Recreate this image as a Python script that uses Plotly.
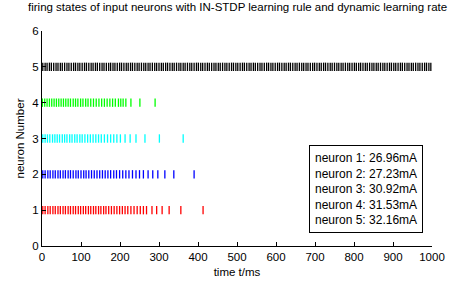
import plotly.graph_objects as go

neuron_ids = [1, 2, 3, 4, 5]
neuron_colors = ["#ff0000", "#0000ff", "#00ffff", "#00ff00", "#000000"]

spikes_n1 = [2, 8, 15, 21, 28, 34, 41, 47, 54, 60, 67, 73, 80, 86, 93, 99, 106, 112, 119, 125,
             132, 138, 145, 151, 158, 164, 171, 178, 185, 192, 199, 206, 213, 220, 228, 236,
             244, 252, 260, 268, 282, 294, 308, 326, 356, 413]
spikes_n2 = [2, 8, 15, 21, 28, 34, 41, 47, 54, 60, 67, 73, 80, 87, 93, 100, 107, 113, 120, 127,
             134, 141, 148, 155, 162, 169, 176, 184, 191, 199, 207, 215, 223, 232, 241, 250,
             260, 272, 284, 297, 315, 338, 390]
spikes_n3 = [2, 8, 14, 20, 27, 33, 39, 45, 52, 58, 64, 71, 77, 84, 90, 97, 103, 110, 117, 124,
             131, 138, 145, 152, 160, 168, 176, 184, 192, 201, 213, 226, 241, 264, 301, 362]
spikes_n4 = [1, 7, 13, 19, 25, 31, 37, 43, 49, 55, 61, 67, 73, 80, 86, 92, 99, 105, 112, 118,
             125, 132, 139, 146, 153, 160, 167, 174, 181, 188, 196, 202, 208, 215, 228, 251, 290]
spikes_n5 = [2, 8, 13, 19, 24, 30, 36, 41, 47, 52, 58, 64, 69, 75, 81, 86, 92, 97, 103, 109,
             114, 120, 126, 131, 137, 142, 148, 154, 159, 165, 171, 176, 182, 187, 193, 199,
             204, 210, 216, 221, 227, 232, 238, 244, 249, 255, 261, 266, 272, 277, 283, 289,
             294, 300, 306, 311, 317, 322, 328, 334, 339, 345, 351, 356, 362, 367, 373, 379,
             384, 390, 396, 401, 407, 412, 418, 424, 429, 435, 441, 446, 452, 457, 463, 469,
             474, 480, 486, 491, 497, 502, 508, 514, 519, 525, 531, 536, 542, 547, 553, 559,
             564, 570, 576, 581, 587, 592, 598, 604, 609, 615, 621, 626, 632, 637, 643, 649,
             654, 660, 666, 671, 677, 682, 688, 694, 699, 705, 711, 716, 722, 727, 733, 739,
             744, 750, 756, 761, 767, 772, 778, 784, 789, 795, 801, 806, 812, 817, 823, 829,
             834, 840, 846, 851, 857, 862, 868, 874, 879, 885, 891, 896, 902, 907, 913, 919,
             924, 930, 936, 941, 947, 952, 958, 964, 969, 975, 981, 986, 992, 997]
all_spikes = [spikes_n1, spikes_n2, spikes_n3, spikes_n4, spikes_n5]

currents_mA = ["26.96", "27.23", "30.92", "31.53", "32.16"]

x_ticks = [0, 100, 200, 300, 400, 500, 600, 700, 800, 900, 1000]
y_ticks = [0, 1, 2, 3, 4, 5, 6]

title_text = "firing states of input neurons with IN-STDP learning rule and dynamic learning rate"
x_label = "time t/ms"
y_label = "neuron Number"

FONT = "Liberation Sans, Arial, sans-serif"

fig = go.Figure()
for nid, col, sp in zip(neuron_ids, neuron_colors, all_spikes):
    fig.add_trace(go.Scatter(
        x=sp, y=[nid] * len(sp), mode="markers",
        marker=dict(symbol="line-ns", size=6, color=col,
                    line=dict(color=col, width=1.3)),
        showlegend=False, cliponaxis=False,
    ))

box_text = "<br>".join(f"neuron {n}: {c}mA" for n, c in zip(neuron_ids, currents_mA))
fig.add_annotation(
    x=830, y=1.58, xref="x", yref="y", text=box_text, showarrow=False,
    align="left", xanchor="center", yanchor="middle",
    font=dict(family=FONT, size=12, color="black"),
    bordercolor="black", borderwidth=1, borderpad=5, bgcolor="white",
)

fig.add_annotation(
    x=0.5, y=1.0, xref="paper", yref="paper", yshift=16,
    text=title_text, showarrow=False, xanchor="center", yanchor="bottom",
    font=dict(family=FONT, size=11.5, color="black"),
)

fig.update_layout(
    width=474, height=306,
    margin=dict(l=42, r=42, t=31, b=60),
    paper_bgcolor="white", plot_bgcolor="white",
    font=dict(family=FONT, size=11.5, color="black"),
)
fig.update_xaxes(
    range=[0, 1000], tickvals=x_ticks, ticktext=[str(v) for v in x_ticks],
    showgrid=False, zeroline=False, showline=True, linecolor="black", linewidth=1,
    ticks="inside", ticklen=4, tickcolor="black",
    title=dict(text=x_label, standoff=6, font=dict(family=FONT, size=11.5)),
)
fig.update_yaxes(
    range=[0, 6], tickvals=y_ticks, ticktext=[str(v) for v in y_ticks],
    showgrid=False, zeroline=False, showline=True, linecolor="black", linewidth=1,
    ticks="inside", ticklen=4, tickcolor="black",
    title=dict(text=y_label, standoff=5, font=dict(family=FONT, size=11.5)),
)

fig.write_html("out.html")
